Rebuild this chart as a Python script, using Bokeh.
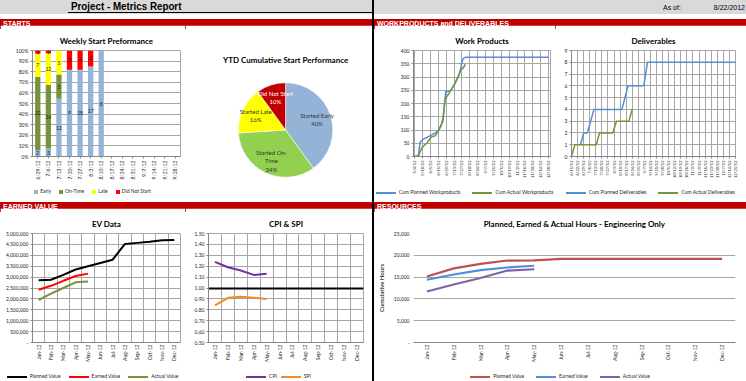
import math
from bokeh.plotting import figure
from bokeh.models import (Range1d, FactorRange, FixedTicker, NumeralTickFormatter, Div,
                          ColumnDataSource, GridBox)
from bokeh.embed import file_html
from bokeh.resources import INLINE
from bokeh.core.properties import value

# ------------------------------------------------------------------ data
ws_weeks = ["6/29/12", "7/6/12", "7/13/12", "7/20/12", "7/27/12", "8/3/12", "8/10/12",
            "8/17/12", "8/24/12", "8/31/12", "9/7/12", "9/14/12", "9/21/12", "9/28/12"]
ws_early = [2, 3, 12, 9, 18, 17, 8, 0, 0, 0, 0, 0, 0, 0]
ws_ontime = [22, 24, 5, 0, 0, 0, 0, 0, 0, 0, 0, 0, 0, 0]
ws_late = [7, 12, 5, 0, 0, 0, 0, 0, 0, 0, 0, 0, 0, 0]
ws_dns = [1, 1, 0, 2, 4, 3, 0, 0, 0, 0, 0, 0, 0, 0]
ws_names = ["Early", "On-Time", "Late", "Did Not Start"]
ws_colors = ["#95b3d7", "#77933c", "#ffff00", "#ff0000"]

pie_title = "YTD Cumulative Start Performance"
pie_names = ["Started Early", "Started On-\nTime", "Started Late", "Did Not Start"]
pie_pct = [40, 34, 16, 10]

wp_dates = ["5/4/12", "5/18/12", "6/1/12", "6/15/12", "6/29/12", "7/13/12", "7/27/12", "8/10/12",
            "8/24/12", "9/7/12", "9/21/12", "10/5/12", "10/19/12", "11/2/12", "11/16/12",
            "11/30/12", "12/14/12", "12/28/12"]
wp_plan_x = [0, 0.45, 0.7, 1.05, 1.6, 2.05, 2.7, 3.0, 3.4, 3.6, 3.95, 4.5, 5.05, 5.45, 5.8, 5.95, 6.15, 6.5, 17]
wp_plan_y = [0, 0, 55, 65, 72, 80, 90, 99, 121, 134, 245, 246, 272, 295, 322, 350, 369, 375, 375]
wp_act_x = [0, 0.5, 0.9, 1.25, 1.6, 1.9, 2.15, 2.6, 3.0, 3.35, 3.6, 3.85, 4.1, 4.5, 5.05, 5.6, 5.8, 6.1, 6.45]
wp_act_y = [0, 4, 32, 43, 52, 66, 74, 78, 97, 115, 146, 214, 227, 245, 272, 307, 326, 332, 348]

del_dates = ["6/15/12", "6/22/12", "6/29/12", "7/6/12", "7/13/12", "7/20/12", "7/27/12", "8/3/12",
             "8/10/12", "8/17/12", "8/24/12", "8/31/12", "9/7/12", "9/14/12", "9/21/12", "9/28/12",
             "10/5/12", "10/12/12", "10/19/12", "10/26/12", "11/2/12", "11/9/12", "11/16/12",
             "11/23/12", "11/30/12", "12/7/12", "12/14/12", "12/21/12"]
del_plan_x = [1.5, 2.0, 2.6, 3.7, 8.3, 9.3, 11.9, 12.5, 27]
del_plan_y = [1, 2, 2, 4, 4, 6, 6, 8, 8]
del_act_x = [0, 0.55, 4.1, 4.6, 6.8, 7.4, 9.45, 10.0]
del_act_y = [0, 1, 1, 2, 2, 3, 3, 4]

months = ["Jan-12", "Feb-12", "Mar-12", "Apr-12", "May-12", "Jun-12",
          "Jul-12", "Aug-12", "Sep-12", "Oct-12", "Nov-12", "Dec-12"]
ev_planned = [2850000, 2880000, 3100000, 3350000, 3500000, 3650000,
              3800000, 4520000, 4570000, 4620000, 4690000, 4700000]
ev_earned = [2420000, 2600000, 2830000, 3050000, 3160000]
ev_actual = [1950000, 2240000, 2500000, 2760000, 2800000]

cpi = [1.24, 1.19, 1.16, 1.12, 1.13]
spi = [0.84, 0.91, 0.92, 0.91, 0.90]
index_ref = [1.0]

hrs_planned = [15150, 17000, 18050, 18800, 18850, 19200, 19200, 19200, 19200, 19200, 19200, 19200]
hrs_earned = [14400, 15600, 16600, 17200, 17600]
hrs_actual = [11700, 13300, 14800, 16500, 16800]

# ------------------------------------------------------------------ style helpers
FONT = "Lato"
GRID = "#a6a6a6"
AXIS = "#868686"
LBL = "#262626"


def base_fig(w, h, title, lb, rb, tb, bb, x_range, y_range):
    p = figure(width=w, height=h, output_backend="svg", toolbar_location=None,
               x_range=x_range, y_range=y_range, title=title,
               min_border_left=lb, min_border_right=rb, min_border_top=tb, min_border_bottom=bb)
    p.title.align = "center"
    p.title.text_font = FONT
    p.title.text_font_size = "8px"
    p.title.text_font_style = "bold"
    p.title.text_color = "#000000"
    p.outline_line_color = GRID
    p.background_fill_color = "white"
    p.border_fill_color = "white"
    for ax in p.axis:
        ax.major_label_text_font = FONT
        ax.major_label_text_font_size = "5px"
        ax.major_label_text_color = LBL
        ax.axis_line_color = AXIS
        ax.major_tick_line_color = AXIS
        ax.minor_tick_line_color = None
        ax.major_tick_in = 0
        ax.major_tick_out = 2
        ax.major_label_standoff = 2
    p.grid.grid_line_color = GRID
    p.grid.grid_line_width = 1
    return p


def legend_div(labels, colors, w, h=15, square=False, gap=6):
    parts = []
    for lab, col in zip(labels, colors):
        if square:
            sw = ('<span style="display:inline-block;width:4px;height:4px;background:%s;'
                  'margin-right:2px;"></span>') % col
        else:
            sw = ('<span style="display:inline-block;width:20px;height:2px;background:%s;'
                  'margin-right:3px;"></span>') % col
        parts.append('<span style="display:inline-flex;align-items:center;white-space:nowrap;'
                     'margin:0 %dpx;">%s%s</span>' % (gap, sw, lab))
    html = ('<div style="width:%dpx;height:%dpx;display:flex;align-items:center;justify-content:center;'
            'font-family:Lato,sans-serif;font-size:5px;color:#262626;background:#ffffff;">%s</div>'
            ) % (w, h, "".join(parts))
    return Div(text=html, width=w, height=h, margin=0)


def band(text, w, h=11):
    html = ('<div style="width:%dpx;height:%dpx;background:#c00000;color:#ffffff;'
            'font-family:\'Liberation Sans\',Arial,sans-serif;font-size:7px;font-weight:bold;'
            'line-height:%dpx;padding-left:3px;box-sizing:border-box;white-space:nowrap;'
            'border-top:1px solid #ffffff;border-bottom:1px solid #7a0000;">%s</div>') % (w, h, h - 2, text)
    return Div(text=html, width=w, height=h, margin=0)


# ------------------------------------------------------------------ Weekly Start Performance
totals = [a + b + c + d for a, b, c, d in zip(ws_early, ws_ontime, ws_late, ws_dns)]
pct = {}
for key, arr in zip(["early", "ontime", "late", "dns"], [ws_early, ws_ontime, ws_late, ws_dns]):
    pct[key] = [v / t if t else 0 for v, t in zip(arr, totals)]
src = ColumnDataSource(dict(week=ws_weeks, **pct))
xr = FactorRange(*ws_weeks, range_padding=0, factor_padding=0)
f_ws = base_fig(185, 157, "Weekly Start Preformance", 23, 3, 25, 25, xr, Range1d(0, 1))
f_ws.vbar_stack(["early", "ontime", "late", "dns"], x="week", width=0.5, source=src,
                color=ws_colors, line_color=None)
f_ws.yaxis.ticker = FixedTicker(ticks=[i / 10 for i in range(11)])
f_ws.yaxis.formatter = NumeralTickFormatter(format="0%")
f_ws.xaxis.major_label_orientation = math.pi / 2
f_ws.xgrid.visible = False
lx, ly, lt = [], [], []
for i, wk in enumerate(ws_weeks):
    base = 0
    for arr, key in zip([ws_early, ws_ontime, ws_late, ws_dns], ["early", "ontime", "late", "dns"]):
        h = pct[key][i]
        if arr[i] > 0:
            lx.append(wk)
            ly.append(base + h / 2)
            lt.append(str(arr[i]))
        base += h
f_ws.text(x=lx, y=ly, text=lt, text_font=value(FONT), text_font_size="5px",
          text_align="center", text_baseline="middle", text_color="#1f1f1f")
lg_ws = legend_div(ws_names, ws_colors, 185, square=True, gap=4)

# ------------------------------------------------------------------ YTD pie
PW, PH = 187, 172
cx, cy = 93, 93
f_pie = figure(width=PW, height=PH, output_backend="svg", toolbar_location=None,
               x_range=Range1d(-cx, PW - cx), y_range=Range1d(-(PH - cy), cy),
               min_border=0, x_axis_location=None, y_axis_location=None)
f_pie.grid.visible = False
f_pie.outline_line_color = None
f_pie.border_fill_color = "white"
f_pie.background_fill_color = "white"
pie_colors = ["#95b3d7", "#92d050", "#ffff00", "#c00000"]
R = 57
cum = 0
tx, ty, tt, tc = [], [], [], []
for name, v, col in zip(pie_names, pie_pct, pie_colors):
    a0 = math.pi / 2 - 2 * math.pi * cum / 100
    a1 = math.pi / 2 - 2 * math.pi * (cum + v) / 100
    f_pie.wedge(x=0, y=0, radius=R, start_angle=a0, end_angle=a1, direction="clock",
                fill_color=col, line_color="#ffffff", line_width=0.6)
    mid = (a0 + a1) / 2
    tx.append(0.7 * R * math.cos(mid))
    ty.append(0.7 * R * math.sin(mid))
    tt.append("%s\n%d%%" % (name, v))
    tc.append("#ffffff" if col == "#c00000" else "#333333")
    cum += v
f_pie.text(x=tx, y=ty, text=tt, text_color=tc, text_font=value(FONT), text_font_size="6px",
           text_align="center", text_baseline="middle")
f_pie.text(x=[0], y=[cy - 11], text=[pie_title], text_font=value(FONT), text_font_size="8px",
           text_font_style="bold", text_align="center", text_baseline="middle", text_color="#000000")

# ------------------------------------------------------------------ Work Products
f_wp = base_fig(181, 157, "Work Products", 17, 5, 25, 25, Range1d(-0.15, 17.25), Range1d(0, 400))
f_wp.xaxis.ticker = FixedTicker(ticks=list(range(len(wp_dates))))
f_wp.xaxis.major_label_overrides = {i: d for i, d in enumerate(wp_dates)}
f_wp.xaxis.major_label_orientation = math.pi / 2
f_wp.xaxis.major_label_text_font_size = "4px"
f_wp.yaxis.ticker = FixedTicker(ticks=list(range(0, 401, 50)))
f_wp.xgrid.ticker = FixedTicker(ticks=list(range(len(wp_dates))))
f_wp.line(wp_plan_x, wp_plan_y, line_color="#558ed5", line_width=1.5)
f_wp.line(wp_act_x, wp_act_y, line_color="#77933c", line_width=1.5)
lg_wp = legend_div(["Cum Planned Workproducts", "Cum Actual Workproducts"], ["#558ed5", "#77933c"], 181)

# ------------------------------------------------------------------ Deliverables
f_del = base_fig(191, 157, "Deliverables", 16, 11, 25, 25, Range1d(0, 27), Range1d(0, 9))
f_del.xaxis.ticker = FixedTicker(ticks=list(range(len(del_dates))))
f_del.xaxis.major_label_overrides = {i: d for i, d in enumerate(del_dates)}
f_del.xaxis.major_label_orientation = math.pi / 2
f_del.xaxis.major_label_text_font_size = "4px"
f_del.yaxis.ticker = FixedTicker(ticks=list(range(10)))
f_del.xgrid.ticker = FixedTicker(ticks=list(range(len(del_dates))))
f_del.line(del_plan_x, del_plan_y, line_color="#558ed5", line_width=1.5)
f_del.line(del_act_x, del_act_y, line_color="#77933c", line_width=1.5)
lg_del = legend_div(["Cum Planned Deliverables", "Cum Actual Deliverables"], ["#558ed5", "#77933c"], 191)


# ------------------------------------------------------------------ monthly helpers
def month_axis(p, grid=True):
    p.xaxis.ticker = FixedTicker(ticks=[i + 0.5 for i in range(len(months))])
    p.xaxis.major_label_overrides = {i + 0.5: m for i, m in enumerate(months)}
    p.xaxis.major_label_orientation = math.pi / 2
    p.xaxis.major_tick_out = 0
    if grid:
        p.xgrid.ticker = FixedTicker(ticks=list(range(len(months) + 1)))
    else:
        p.xgrid.visible = False


def mx(vals):
    return [i + 0.5 for i in range(len(vals))]


# ------------------------------------------------------------------ EV Data
f_ev = base_fig(185, 158, "EV Data", 32, 5, 25, 23, Range1d(0, 12), Range1d(0, 5000000))
month_axis(f_ev)
f_ev.yaxis.ticker = FixedTicker(ticks=list(range(0, 5000001, 500000)))
f_ev.yaxis.formatter = NumeralTickFormatter(format="0,0")
f_ev.yaxis.major_label_overrides = {0: "-"}
f_ev.line(mx(ev_planned), ev_planned, line_color="#000000", line_width=2)
f_ev.line(mx(ev_earned), ev_earned, line_color="#ff0000", line_width=2)
f_ev.line(mx(ev_actual), ev_actual, line_color="#77933c", line_width=2)
lg_ev = legend_div(["Planned Value", "Earned Value", "Actual Value"],
                   ["#000000", "#ff0000", "#77933c"], 185, gap=4)

# ------------------------------------------------------------------ CPI & SPI
f_cpi = base_fig(187, 158, "CPI & SPI", 23, 9, 25, 23, Range1d(0, 12), Range1d(0.5, 1.5))
month_axis(f_cpi)
f_cpi.yaxis.ticker = FixedTicker(ticks=[0.5, 0.6, 0.7, 0.8, 0.9, 1.0, 1.1, 1.2, 1.3, 1.4, 1.5])
f_cpi.yaxis.formatter = NumeralTickFormatter(format="0.00")
f_cpi.hspan(y=index_ref, line_color="#000000", line_width=2)
f_cpi.line(mx(cpi), cpi, line_color="#7030a0", line_width=2)
f_cpi.line(mx(spi), spi, line_color="#f28a2e", line_width=2)
lg_cpi = legend_div(["CPI", "SPI"], ["#7030a0", "#f28a2e"], 187, gap=2)

# ------------------------------------------------------------------ Resources
f_res = base_fig(372, 158, "Planned, Earned & Actual Hours - Engineering Only", 39, 11, 25, 24,
                 Range1d(0, 12), Range1d(0, 25000))
month_axis(f_res, grid=False)
f_res.yaxis.ticker = FixedTicker(ticks=list(range(0, 25001, 5000)))
f_res.yaxis.formatter = NumeralTickFormatter(format="0,0")
f_res.yaxis.major_label_overrides = {0: "-"}
f_res.yaxis.axis_label = "Cumulative Hours"
f_res.yaxis.axis_label_text_font = FONT
f_res.yaxis.axis_label_text_font_size = "6px"
f_res.yaxis.axis_label_text_font_style = "bold"
f_res.yaxis.axis_label_standoff = 6
f_res.yaxis.axis_line_color = None
f_res.yaxis.major_tick_line_color = None
f_res.outline_line_color = None
f_res.line(mx(hrs_planned), hrs_planned, line_color="#c0504d", line_width=2.2)
f_res.line(mx(hrs_earned), hrs_earned, line_color="#4f8fdc", line_width=2.2)
f_res.line(mx(hrs_actual), hrs_actual, line_color="#8064a2", line_width=2.2)
lg_res = legend_div(["Planned Value", "Earned Value", "Actual Value"],
                    ["#c0504d", "#4f8fdc", "#8064a2"], 372)

# ------------------------------------------------------------------ header + flat grid layout
header_html = (
    '<div style="position:relative;width:746px;height:14px;background:#d9d9d9;overflow:hidden;'
    'font-family:\'Liberation Sans\',Arial,sans-serif;color:#000;">'
    '<div style="position:absolute;left:68px;top:0;width:304px;height:13px;border-bottom:1px solid #000;"></div>'
    '<div style="position:absolute;left:71px;top:0;font-size:11px;font-weight:bold;line-height:13px;'
    'white-space:nowrap;transform:scaleX(0.89);transform-origin:left center;">Project - Metrics Report</div>'
    '<div style="position:absolute;left:372px;top:0;width:2px;height:14px;background:#000;"></div>'
    '<div style="position:absolute;left:663px;top:4px;font-size:7px;line-height:8px;">As of:</div>'
    '<div style="position:absolute;right:1px;top:4px;font-size:7px;line-height:8px;">8/22/2012</div>'
    '</div>')
header = Div(text=header_html, width=746, height=14, margin=0)
divider = Div(text='<div style="width:2px;height:367px;background:#000"></div>',
              width=2, height=367, margin=0)

page = GridBox(children=[
    (header, 0, 0, 1, 5),
    (band("STARTS", 372), 1, 0, 1, 2),
    (divider, 1, 2, 6, 1),
    (band("WORKPRODUCTS and DELIVERABLES", 372), 1, 3, 1, 2),
    (f_ws, 2, 0), (f_pie, 2, 1, 2, 1), (f_wp, 2, 3), (f_del, 2, 4),
    (lg_ws, 3, 0), (lg_wp, 3, 3), (lg_del, 3, 4),
    (band("EARNED VALUE", 372), 4, 0, 1, 2),
    (band("RESOURCES", 372), 4, 3, 1, 2),
    (f_ev, 5, 0), (f_cpi, 5, 1), (f_res, 5, 3, 1, 2),
    (lg_ev, 6, 0), (lg_cpi, 6, 1), (lg_res, 6, 3, 1, 2),
], spacing=0)

open("out.html", "w").write(file_html(page, INLINE))
